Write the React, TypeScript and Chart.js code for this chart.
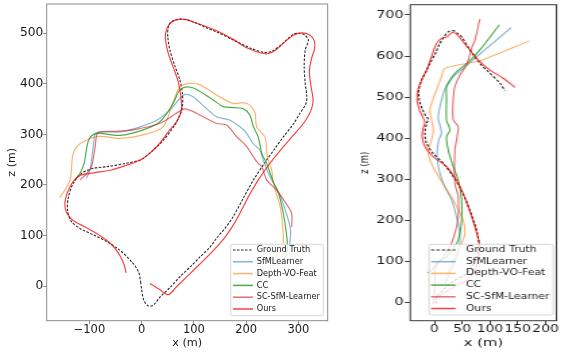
import React, { useEffect, useRef } from "react";
import { Chart, registerables } from "chart.js";

Chart.register(...registerables);

type P = [number, number];

// ---------- shared ----------
const seriesNames = ["Ground Truth", "SfMLearner", "Depth-VO-Feat", "CC", "SC-SfM-Learner", "Ours"];
const seriesColors = [
  "rgba(0,0,0,0.85)",
  "rgba(31,119,180,0.55)",
  "rgba(255,127,14,0.6)",
  "rgba(44,160,44,0.85)",
  "rgba(214,39,40,0.65)",
  "rgba(255,0,0,0.75)",
];

// ---------- left plot (x, z in metres) ----------
const leftGroundTruth: P[] = [
  [-2, 8], [0, -8], [4, -28], [12, -39], [22, -38], [35, -22], [55, -2], [73, 18], [95, 40], [112, 58],
  [130, 76], [145, 97], [160, 115], [175, 137], [195, 175], [214, 210], [239, 249], [255, 272], [271, 295],
  [290, 320], [303, 342], [314, 360], [316, 375], [313, 401], [311, 434], [313, 467], [319, 486], [313, 496],
  [303, 500], [290, 498], [272, 482], [252, 466], [235, 462], [210, 470], [175, 487], [145, 502], [124, 511],
  [100, 522], [85, 527], [73, 528], [57, 523], [51, 513], [50, 493], [54, 467], [64, 434], [73, 408],
  [78, 381], [78, 355], [73, 338], [61, 315], [42, 289], [22, 269], [0, 251], [-29, 243], [-67, 236],
  [-92, 233], [-115, 223], [-131, 203], [-140, 177], [-142, 150], [-134, 127], [-118, 114], [-92, 101],
  [-67, 88], [-42, 71], [-19, 48], [-6, 28], [-2, 8],
];
const leftSfMLearner: P[] = [
  [283, 83], [285, 100], [284, 117], [278, 140], [270, 165], [260, 190], [246, 215], [234, 245], [226, 269],
  [213, 282], [201, 302], [188, 315], [169, 328], [143, 335], [124, 351], [99, 374], [83, 379], [73, 371],
  [54, 348], [29, 328], [-3, 315], [-41, 305], [-80, 305], [-89, 301], [-92, 282], [-96, 249], [-100, 226],
  [-106, 213],
];
const leftDepthVOFeat: P[] = [
  [255, 57], [262, 65], [268, 74], [271, 84], [270, 117], [265, 157], [252, 203], [249, 229], [242, 249],
  [239, 269], [236, 295], [220, 315], [217, 342], [207, 358], [194, 363], [175, 361], [143, 378], [112, 398],
  [92, 401], [73, 394], [57, 355], [41, 315], [3, 299], [-41, 292], [-80, 296], [-105, 289], [-124, 276],
  [-132, 259], [-134, 236], [-137, 210], [-147, 190], [-157, 175],
];
const leftCC: P[] = [
  [271, 51], [276, 60], [279, 78], [277, 104], [271, 144], [262, 183], [252, 206], [239, 243], [230, 262],
  [223, 295], [214, 315], [207, 338], [194, 351], [175, 353], [156, 355], [137, 368], [105, 389], [89, 394],
  [73, 388], [60, 361], [35, 325], [3, 309], [-41, 298], [-80, 302], [-92, 300], [-101, 290], [-106, 269],
  [-110, 243], [-118, 223], [-128, 210],
];
const leftSCSfMLearner: P[] = [
  [287, 117], [287, 144], [274, 167], [258, 190], [239, 210], [230, 236], [220, 246], [201, 276], [182, 295],
  [163, 318], [143, 322], [112, 338], [92, 348], [80, 350], [35, 322], [-16, 309], [-50, 306], [-80, 305],
  [-86, 299], [-89, 276], [-96, 236], [-105, 223], [-118, 210],
];
const leftOurs: P[] = [
  [16, 5], [33, -6], [51, -17], [67, -1], [86, 18], [110, 42], [135, 68], [158, 95], [175, 120], [190, 148],
  [205, 178], [222, 208], [242, 238], [265, 268], [290, 298], [312, 325], [325, 350], [328, 370], [324, 395],
  [321, 425], [325, 450], [331, 470], [330, 486], [321, 497], [307, 501], [292, 497], [275, 484], [258, 468],
  [243, 460], [228, 461], [200, 472], [175, 488], [148, 503], [124, 513], [100, 522], [86, 527], [67, 527],
  [53, 518], [46, 502], [46, 483], [51, 460], [60, 434], [70, 404], [75, 375], [76, 348], [67, 325], [51, 305],
  [35, 283], [16, 263], [-3, 249], [-29, 239], [-60, 229], [-92, 224], [-118, 219], [-131, 207], [-141, 188],
  [-147, 165], [-144, 146], [-133, 131], [-118, 122], [-100, 112], [-80, 100], [-62, 86], [-50, 73], [-40, 57],
  [-33, 40], [-30, 26],
];
const leftXTicks = [-100, 0, 100, 200, 300];
const leftZTicks = [0, 100, 200, 300, 400, 500];

// ---------- right plot ----------
const rightGroundTruth: P[] = [
  [3, -2], [4, 15], [16, 31], [34, 52], [52, 66], [66, 85], [76, 110], [80, 140], [78, 165], [73, 190],
  [64, 225], [55, 255], [46, 280], [34, 307], [16, 339], [-2, 363], [-14, 388], [-17, 412], [-14, 436],
  [-11, 446], [-17, 458], [-22, 472], [-27, 493], [-28, 517], [-23, 541], [-15, 562], [-8, 582], [2, 607],
  [10, 631], [18, 648], [25, 659], [34, 662], [41, 656], [49, 647], [64, 615], [82, 582], [100, 558],
  [118, 534], [127, 516],
];
const rightSfMLearner: P[] = [
  [20, 45], [25, 63], [32, 85], [38, 104], [44, 125], [46, 150], [45, 177], [40, 209], [31, 250], [19, 282],
  [10, 315], [5, 355], [8, 396], [13, 412], [10, 432], [7, 449], [10, 477], [13, 493], [19, 521], [28, 538],
  [34, 550], [52, 570], [95, 620], [138, 669],
];
const rightDepthVOFeat: P[] = [
  [19, 50], [28, 88], [37, 112], [49, 144], [55, 169], [52, 201], [43, 226], [34, 250], [19, 282], [4, 315],
  [-8, 347], [-11, 371], [-5, 396], [-2, 420], [-5, 445], [-8, 469], [-5, 485], [4, 518], [13, 550], [19, 570],
  [58, 582], [85, 590], [171, 637],
];
const rightCC: P[] = [
  [-12, 72], [-3, 82], [4, 96], [22, 112], [40, 144], [46, 169], [49, 201], [49, 250], [43, 298], [34, 331],
  [25, 371], [22, 404], [28, 420], [22, 444], [22, 493], [22, 526], [28, 542], [40, 562], [61, 585], [82, 615],
  [117, 676],
];
const rightSCSfMLearner: P[] = [
  [0, 15], [1, 55], [1, 80], [7, 96], [16, 112], [28, 136], [37, 169], [43, 209], [43, 258], [37, 290],
  [37, 371], [41, 404], [43, 428], [34, 445], [34, 493], [37, 526], [46, 554], [58, 578], [67, 619], [73, 639],
  [82, 690],
];
const rightOurs: P[] = [
  [-2, -5], [-1, 7], [15, 22], [35, 38], [58, 55], [72, 75], [79, 104], [81, 144], [77, 165], [73, 185],
  [67, 210], [61, 234], [55, 255], [49, 274], [40, 298], [22, 331], [-2, 355], [-17, 380], [-22, 404],
  [-20, 425], [-17, 440], [-22, 455], [-27, 470], [-31, 493], [-29, 520], [-22, 545], [-14, 566], [-6, 595],
  [4, 631], [13, 643], [22, 646], [33, 658], [41, 652], [49, 639], [64, 615], [79, 590], [100, 566],
  [124, 546], [145, 524],
];
const rightXTicks = [0, 50, 100, 150, 200];
const rightZTicks = [0, 100, 200, 300, 400, 500, 600, 700];

// ---------- helpers ----------
const FONT = "'DejaVu Sans', sans-serif";
const fmt = (v: number) => (v < 0 ? "\u2212" + Math.abs(v) : String(v));

const frameLegendPlugin = {
  id: "frameLegend",
  afterDatasetsDraw(chart: any, _args: any, opts: any) {
    const { ctx, chartArea: a } = chart;
    ctx.save();
    ctx.strokeStyle = opts.frameColor;
    ctx.lineWidth = 1;
    ctx.setLineDash([]);
    ctx.strokeRect(a.left, a.top, a.right - a.left, a.bottom - a.top);
    const L = opts.legend;
    ctx.beginPath();
    const r = 2;
    const x0 = L.x0, y0 = L.y0, x1 = L.x1, y1 = L.y1;
    ctx.moveTo(x0 + r, y0);
    ctx.lineTo(x1 - r, y0);
    ctx.quadraticCurveTo(x1, y0, x1, y0 + r);
    ctx.lineTo(x1, y1 - r);
    ctx.quadraticCurveTo(x1, y1, x1 - r, y1);
    ctx.lineTo(x0 + r, y1);
    ctx.quadraticCurveTo(x0, y1, x0, y1 - r);
    ctx.lineTo(x0, y0 + r);
    ctx.quadraticCurveTo(x0, y0, x0 + r, y0);
    ctx.closePath();
    ctx.fillStyle = "rgba(255,255,255,0.8)";
    ctx.fill();
    ctx.strokeStyle = "#d6d6d6";
    ctx.stroke();
    chart.data.datasets.forEach((ds: any, i: number) => {
      const y = L.rowY + i * L.dy;
      ctx.beginPath();
      ctx.strokeStyle = ds.borderColor;
      ctx.lineWidth = ds.borderDash ? 1 : L.lw;
      ctx.setLineDash(ds.borderDash || []);
      ctx.moveTo(L.lx0, y);
      ctx.lineTo(L.lx1, y);
      ctx.stroke();
      ctx.setLineDash([]);
      ctx.fillStyle = "#1a1a1a";
      ctx.font = `${L.font}px ${FONT}`;
      ctx.textBaseline = "middle";
      ctx.textAlign = "left";
      ctx.fillText(ds.label, L.tx, y);
    });
    ctx.restore();
  },
};

function makeAxis(o: {
  min: number; max: number; ticks: number[]; isX: boolean; fit: number; tickFont: number;
  tickLen: number; tickPad: number; title: string; titleFont: number; titlePad: any; color: string;
}) {
  return {
    type: "linear" as const,
    position: o.isX ? "bottom" : "left",
    min: o.min,
    max: o.max,
    bounds: "data" as const,
    afterBuildTicks: (s: any) => {
      s.ticks = o.ticks.map((v) => ({ value: v }));
    },
    afterFit: (s: any) => {
      if (o.isX) s.height = o.fit;
      else s.width = o.fit;
      s.paddingLeft = 0;
      s.paddingRight = 0;
      s.paddingTop = 0;
      s.paddingBottom = 0;
    },
    grid: {
      display: true, drawOnChartArea: false, drawTicks: true,
      tickLength: o.tickLen, tickColor: o.color, tickWidth: 1,
    },
    border: { display: false },
    ticks: {
      autoSkip: false, maxRotation: 0, minRotation: 0, padding: o.tickPad, color: "#1a1a1a",
      font: { family: FONT, size: o.tickFont, lineHeight: 1 },
      callback: (v: any) => fmt(Number(v)),
    },
    title: {
      display: true, text: o.title, color: "#1a1a1a",
      font: { family: FONT, size: o.titleFont, lineHeight: 1.2 },
      padding: o.titlePad,
    },
  };
}

function datasets(series: P[][], lw: number) {
  return series.map((s, i) => ({
    label: seriesNames[i],
    data: s.map(([x, y]) => ({ x, y })),
    showLine: true,
    borderColor: seriesColors[i],
    backgroundColor: seriesColors[i],
    borderWidth: i === 0 ? 1.1 : lw,
    borderDash: i === 0 ? [2.5, 1.5] : undefined,
    pointRadius: 0,
    tension: 0.3,
    fill: false,
    order: 6 - i,
  }));
}

function PlotCanvas(props: { width: number; height: number; config: any }) {
  const ref = useRef<HTMLCanvasElement | null>(null);
  useEffect(() => {
    if (!ref.current) return;
    const chart = new Chart(ref.current, props.config);
    return () => chart.destroy();
  }, []);
  return (
    <canvas
      ref={ref}
      width={props.width}
      height={props.height}
      style={{ display: "block", width: props.width, height: props.height }}
    />
  );
}

// Left chart config (canvas 340 x 358 at page 0,0)
const leftConfig = {
  type: "scatter",
  data: {
    datasets: datasets(
      [leftGroundTruth, leftSfMLearner, leftDepthVOFeat, leftCC, leftSCSfMLearner, leftOurs],
      1.2
    ),
  },
  options: {
    animation: false,
    responsive: false,
    events: [],
    layout: { padding: { left: 0, right: 340 - 327.7, top: 4, bottom: 0 } },
    scales: {
      x: makeAxis({
        min: -181.8, max: 356, ticks: leftXTicks, isX: true, fit: 358 - 320.7, tickFont: 11.5,
        tickLen: 3.5, tickPad: 0.3, title: "x (m)", titleFont: 11.3, titlePad: { top: 0, bottom: 8.3 }, color: "#8a8a8a",
      }),
      y: makeAxis({
        min: -68.6, max: 558, ticks: leftZTicks, isX: false, fit: 46.7, tickFont: 12.2,
        tickLen: 3.5, tickPad: 0, title: "z (m)", titleFont: 11, titlePad: { top: 5.9, bottom: 0 }, color: "#8a8a8a",
      }),
    },
    plugins: {
      legend: { display: false },
      tooltip: { enabled: false },
      frameLegend: {
        frameColor: "#8a8a8a",
        legend: { x0: 230.7, y0: 244.3, x1: 323.3, y1: 315.7, rowY: 250, dy: 11.8, lx0: 233, lx1: 253, tx: 256.7, font: 8.2, lw: 1.5 },
      },
    },
  },
  plugins: [frameLegendPlugin],
};

// Right chart: drawn at internal width, stretched horizontally by S
const S = 1.35;
const RW = 153;
const rightConfig = {
  type: "scatter",
  data: {
    datasets: datasets(
      [rightGroundTruth, rightSfMLearner, rightDepthVOFeat, rightCC, rightSCSfMLearner, rightOurs],
      1.1
    ),
  },
  options: {
    animation: false,
    responsive: false,
    events: [],
    layout: { padding: { left: 0, right: RW - (556.5 - 360) / S, top: 4.7, bottom: 0 } },
    scales: {
      x: makeAxis({
        min: -43.2, max: 219.8, ticks: rightXTicks, isX: true, fit: 358 - 320.7, tickFont: 10.3,
        tickLen: 3.5, tickPad: -0.5, title: "x (m)", titleFont: 11.1, titlePad: { top: 0, bottom: 8.3 }, color: "#3a3a3a",
      }),
      y: makeAxis({
        min: -43.8, max: 725, ticks: rightZTicks, isX: false, fit: (410.3 - 360) / S, tickFont: 10.7,
        tickLen: 4, tickPad: 0.9, title: "z (m)", titleFont: 8.5, titlePad: { top: -1, bottom: 0 }, color: "#3a3a3a",
      }),
    },
    plugins: {
      legend: { display: false },
      tooltip: { enabled: false },
      frameLegend: {
        frameColor: "#3a3a3a",
        legend: {
          x0: (429 - 360) / S, y0: 244.3, x1: (553.3 - 360) / S, y1: 315, rowY: 250, dy: 11.7,
          lx0: (431 - 360) / S, lx1: (455.5 - 360) / S, tx: (466 - 360) / S, font: 8, lw: 1.5,
        },
      },
    },
  },
  plugins: [frameLegendPlugin],
};

export default function App() {
  return (
    <div style={{ position: "absolute", left: 0, top: 0, width: 566, height: 358, background: "#fff", overflow: "hidden" }}>
      <div style={{ position: "absolute", left: 0, top: 0 }}>
        <PlotCanvas width={340} height={358} config={leftConfig} />
      </div>
      <div style={{ position: "absolute", left: 360, top: 0, transform: `scaleX(${S})`, transformOrigin: "0 0" }}>
        <PlotCanvas width={RW} height={358} config={rightConfig} />
      </div>
    </div>
  );
}
